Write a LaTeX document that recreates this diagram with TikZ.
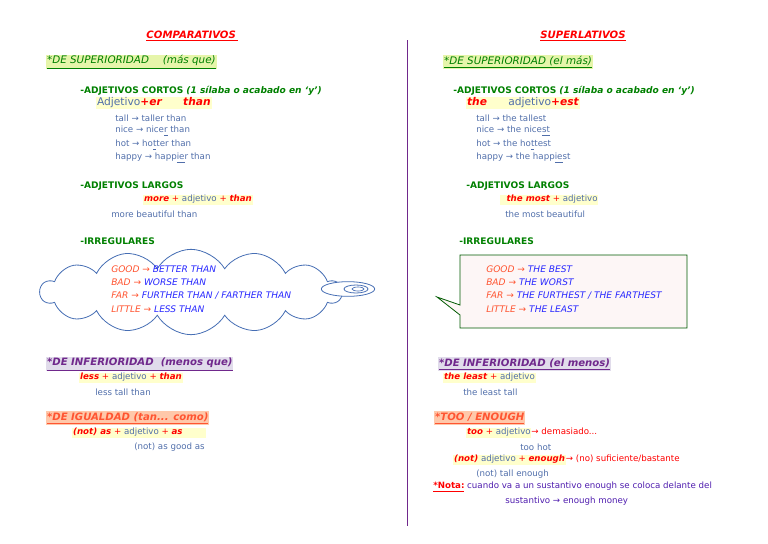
\documentclass[tikz,border=0pt]{standalone}
\usepackage{fontspec}
\setmainfont{DejaVu Sans}
\usetikzlibrary{shapes.symbols,shapes.geometric}
\definecolor{gr}{RGB}{0,128,0}
\definecolor{bg}{RGB}{80,110,170}
\definecolor{rd}{RGB}{255,0,0}
\definecolor{og}{RGB}{255,85,50}
\definecolor{bl}{RGB}{40,40,255}
\definecolor{pu}{RGB}{112,40,140}
\definecolor{hy}{RGB}{255,255,204}
\definecolor{hg}{RGB}{230,245,170}
\definecolor{hp}{RGB}{225,220,235}
\definecolor{ho}{RGB}{255,200,170}
\definecolor{cl}{RGB}{70,110,180}
\newcommand{\hl}[2]{{\setlength{\fboxsep}{0.6pt}\colorbox{#1}{\strut #2}}}
\newcommand{\ul}[1]{\underline{#1}}
\tikzset{t/.style={anchor=west,inner sep=0pt,font=\fontsize{6.5pt}{7pt}\selectfont},
 h/.style={anchor=west,inner sep=0pt,font=\fontsize{7.8pt}{9pt}\selectfont\itshape},
 hb/.style={anchor=west,inner sep=0pt,font=\fontsize{7.6pt}{9pt}\selectfont\bfseries\itshape},
 s/.style={anchor=west,inner sep=0pt,font=\fontsize{6.8pt}{8pt}\selectfont\bfseries},
 ir/.style={anchor=west,inner sep=0pt,font=\fontsize{6.8pt}{8pt}\selectfont\itshape}}
\begin{document}
\begin{tikzpicture}[x=0.75pt,y=-0.75pt]
\useasboundingbox (0,0) rectangle (768,543);
\draw[pu,line width=0.7pt] (407,40) -- (407,526);
% left
\node[hb,anchor=center] (lt) at (192,36) {\textcolor{rd}{\ul{COMPARATIVOS\,}}};
\node[h] (l1) at (46,62) {\hl{hg}{\textcolor{gr}{\ul{*DE SUPERIORIDAD\quad\ (más que)}}}};
\node[s] (l2) at (80,91) {\textcolor{gr}{-ADJETIVOS CORTOS \textit{(1 sílaba o acabado en ‘y’)}}};
\node[t] (l3) at (96,103) {\hl{hy}{\fontsize{8pt}{9pt}\selectfont\textcolor{bg}{Adjetivo}\textcolor{rd}{\bfseries\itshape+er\qquad than}}};
\node[t] (l4) at (115,118) {\textcolor{bg}{tall → taller than}};
\node[t] (l5) at (115,131) {\textcolor{bg}{nice → nice\ul{r} than}};
\node[t] (l6) at (115,145) {\textcolor{bg}{hot → ho\ul{t}ter than}};
\node[t] (l7) at (115,158) {\textcolor{bg}{happy → happ\ul{ie}r than}};
\node[s] (l8) at (80,186) {\textcolor{gr}{-ADJETIVOS LARGOS}};
\node[t] (l9) at (143,200) {\hl{hy}{\textcolor{rd}{\bfseries\itshape more} \textcolor{rd}{+} \textcolor{bg}{adjetivo} \textcolor{rd}{+ \bfseries\itshape than}}};
\node[t] (l10) at (111,214) {\textcolor{bg}{more beautiful than}};
\node[s] (l11) at (80,241) {\textcolor{gr}{-IRREGULARES}};
\node[cloud,draw=cl,line width=0.6pt,fill=white,cloud puffs=14,cloud puff arc=120,cloud ignores aspect,minimum width=226pt,minimum height=64pt,inner sep=0pt] (cloud) at (191,292) {};
\node[ellipse,draw=cl,line width=0.6pt,fill=white,minimum width=40pt,minimum height=11pt,inner sep=0pt] (e1) at (348,289) {};
\node[ellipse,draw=cl,line width=0.6pt,minimum width=18pt,minimum height=6pt,inner sep=0pt] (e2) at (356,289) {};
\node[ellipse,draw=cl,line width=0.5pt,minimum width=9pt,minimum height=3pt,inner sep=0pt] (e3) at (358,289) {};
\node[ir] (c1) at (111,269) {\textcolor{og}{GOOD →} \textcolor{bl}{BETTER THAN}};
\node[ir] (c2) at (111,282) {\textcolor{og}{BAD →} \textcolor{bl}{WORSE THAN}};
\node[ir] (c3) at (111,296) {\textcolor{og}{FAR →} \textcolor{bl}{FURTHER THAN / FARTHER THAN}};
\node[ir] (c4) at (111,309) {\textcolor{og}{LITTLE →} \textcolor{bl}{LESS THAN}};
\node[hb] (l12) at (46,364) {\hl{hp}{\textcolor{pu}{\ul{*DE INFERIORIDAD\ \ (menos que)}}}};
\node[t] (l13) at (79,378) {\hl{hy}{\textcolor{rd}{\bfseries\itshape less} \textcolor{rd}{+} \textcolor{bg}{adjetivo} \textcolor{rd}{+ \bfseries\itshape than}}};
\node[t] (l14) at (95,392) {\textcolor{bg}{less tall than}};
\node[hb] (l15) at (46,418) {\hl{ho}{\textcolor{og}{\ul{*DE IGUALDAD (tan... como)}}}};
\node[t] (l16) at (72,433) {\hl{hy}{\textcolor{rd}{\bfseries\itshape (not) as} \textcolor{rd}{+} \textcolor{bg}{adjetivo} \textcolor{rd}{+ \bfseries\itshape as}\qquad\ \ }};
\node[t] (l17) at (134,447) {\textcolor{bg}{(not) as good as}};
% right
\node[hb,anchor=center] (rt) at (583,36) {\textcolor{rd}{\ul{SUPERLATIVOS}}};
\node[h] (r1) at (443,62) {\hl{hg}{\textcolor{gr}{\ul{*DE SUPERIORIDAD (el más)}}}};
\node[s] (r2) at (453,91) {\textcolor{gr}{-ADJETIVOS CORTOS \textit{(1 sílaba o acabado en ‘y’)}}};
\node[t] (r3) at (466,103) {\hl{hy}{\fontsize{8pt}{9pt}\selectfont\textcolor{rd}{\bfseries\itshape the}\qquad\textcolor{bg}{adjetivo}\textcolor{rd}{\bfseries\itshape+est}}};
\node[t] (r4) at (476,118) {\textcolor{bg}{tall → the tallest}};
\node[t] (r5) at (476,131) {\textcolor{bg}{nice → the nice\ul{st}}};
\node[t] (r6) at (476,145) {\textcolor{bg}{hot → the ho\ul{t}test}};
\node[t] (r7) at (476,158) {\textcolor{bg}{happy → the happ\ul{ie}st}};
\node[s] (r8) at (466,186) {\textcolor{gr}{-ADJETIVOS LARGOS}};
\node[t] (r9) at (500,200) {\hl{hy}{\ \ \textcolor{rd}{\bfseries\itshape the most} \textcolor{rd}{+} \textcolor{bg}{adjetivo}}};
\node[t] (r10) at (505,214) {\textcolor{bg}{the most beautiful}};
\node[s] (r11) at (459,241) {\textcolor{gr}{-IRREGULARES}};
\draw[draw=gr!70!black,fill={rgb,255:red,253;green,246;blue,246},line width=0.6pt] (460,255) -- (687,255) -- (687,328) -- (460,328) -- (460,315) -- (437,297) -- (460,305) -- cycle;
\node[ir] (d1) at (486,269) {\textcolor{og}{GOOD →} \textcolor{bl}{THE BEST}};
\node[ir] (d2) at (486,282) {\textcolor{og}{BAD →} \textcolor{bl}{THE WORST}};
\node[ir] (d3) at (486,296) {\textcolor{og}{FAR →} \textcolor{bl}{THE FURTHEST / THE FARTHEST}};
\node[ir] (d4) at (486,309) {\textcolor{og}{LITTLE →} \textcolor{bl}{THE LEAST}};
\node[hb] (r12) at (438,364) {\hl{hp}{\textcolor{pu}{\ul{*DE INFERIORIDAD (el menos)}}}};
\node[t] (r13) at (443,378) {\hl{hy}{\textcolor{rd}{\bfseries\itshape the least} \textcolor{rd}{+} \textcolor{bg}{adjetivo}}};
\node[t] (r14) at (463,392) {\textcolor{bg}{the least tall}};
\node[hb] (r15) at (434,418) {\hl{ho}{\textcolor{og}{\ul{*TOO / ENOUGH}}}};
\node[t] (r16) at (466,433) {\hl{hy}{\textcolor{rd}{\bfseries\itshape too} \textcolor{rd}{+} \textcolor{bg}{adjetivo}}\textcolor{rd}{ → demasiado...}};
\node[t] (r17) at (520,447) {\textcolor{bg}{too hot}};
\node[t] (r18) at (453,460) {\hl{hy}{\textcolor{rd}{\bfseries\itshape (not)} \textcolor{bg}{adjetivo} \textcolor{rd}{+ \bfseries\itshape enough}}\textcolor{rd}{ → (no) suficiente/bastante}};
\node[t] (r19) at (476,474) {\textcolor{bg}{(not) tall enough}};
\node[t] (r20) at (433,487) {\textcolor{rd}{\bfseries\ul{*Nota:}} \textcolor{pu!70!blue}{cuando va a un sustantivo enough se coloca delante del}};
\node[t] (r21) at (505,501) {\textcolor{pu!70!blue}{sustantivo → enough money}};
\end{tikzpicture}
\end{document}
